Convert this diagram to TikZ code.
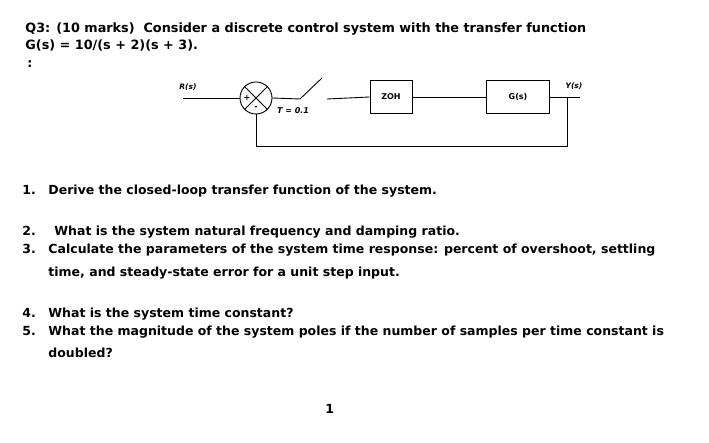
\documentclass[tikz,border=0pt]{standalone}
\usepackage{fontspec}
\setmainfont{DejaVu Sans}
\begin{document}
\begin{tikzpicture}[x=1pt,y=-1pt,line width=0.9pt,
  blk/.style={draw,minimum width=42pt,minimum height=33pt,inner sep=0pt,font=\fontsize{8}{9}\selectfont\bfseries},
  txt/.style={anchor=base west,inner sep=0pt,font=\fontsize{12.5}{14}\selectfont\bfseries},
  lbl/.style={inner sep=0pt,font=\fontsize{7.5}{8}\selectfont\itshape\bfseries}]
\useasboundingbox[fill=white] (0,0) rectangle (709,443);
\node[txt,font=\fontsize{12.8}{14}\selectfont\bfseries] (l1) at (25,33) {Q3: (10 marks) \ Consider a discrete control system with the transfer function};
\node[txt,font=\fontsize{12.8}{14}\selectfont\bfseries] (l2) at (25,50) {G(s) = 10/(s + 2)(s + 3).};
\node[txt] (l3) at (27,68) {:};
% diagram
\node[lbl] (R) at (188,87) {R(s)};
\coordinate (rin) at (183,98);
\node[draw,circle,minimum size=32pt,inner sep=0pt] (S) at (256,98) {};
\draw (S.north west) -- (S.south east) (S.north east) -- (S.south west);
\node[inner sep=0pt,font=\fontsize{8}{8}\selectfont\bfseries] (plus) at (247,98) {+};
\node[inner sep=0pt,font=\fontsize{8}{8}\selectfont\bfseries] (minus) at (256,108) {-};
\draw (rin) -- (S.west);
\coordinate (sw1) at (300,99);
\coordinate (sw2) at (322,78);
\coordinate (sw3) at (327,99);
\draw (S.east) -- (sw1) -- (sw2);
\node[lbl,font=\fontsize{8}{8}\selectfont\itshape\bfseries] (T) at (293,111) {T = 0.1};
\node[blk] (zoh) at (391,97) {ZOH};
\node[blk,minimum width=63pt] (G) at (518,97) {G(s)};
\draw (sw3) -- (zoh.west);
\draw (zoh.east) -- (G.west);
\coordinate (out) at (580,97);
\coordinate (tk) at (567,97);
\draw (G.east) -- (out);
\node[lbl] (Y) at (574,86) {Y(s)};
\coordinate (fb1) at (567,146);
\coordinate (fb2) at (256,146);
\draw (tk) -- (fb1) -- (fb2) -- (S.south);
% questions
\node[txt] (n1) at (22,195) {1.};
\node[txt] (q1) at (48,195) {Derive the closed-loop transfer function of the system.};
\node[txt] (n2) at (22,236) {2.};
\node[txt] (q2) at (54,236) {What is the system natural frequency and damping ratio.};
\node[txt] (n3) at (22,254) {3.};
\node[txt] (q3) at (48,254) {Calculate the parameters of the system time response: percent of overshoot, settling};
\node[txt] (q3b) at (48,277) {time, and steady-state error for a unit step input.};
\node[txt] (n4) at (22,318) {4.};
\node[txt] (q4) at (48,318) {What is the system time constant?};
\node[txt] (n5) at (22,335) {5.};
\node[txt] (q5) at (48,335) {What the magnitude of the system poles if the number of samples per time constant is};
\node[txt] (q5b) at (48,357) {doubled?};
\node[txt] (pg) at (325,413) {1};
\end{tikzpicture}
\end{document}
